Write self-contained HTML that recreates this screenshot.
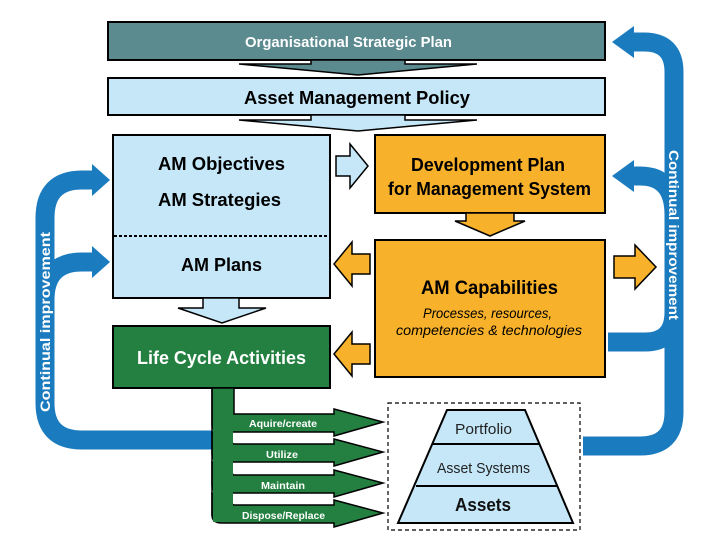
<!DOCTYPE html>
<html><head><meta charset="utf-8"><style>
html,body{margin:0;padding:0;background:#fff;}
svg{display:block;}
text{font-family:"Liberation Sans",sans-serif;}
</style></head><body>
<svg width="702" height="538" viewBox="0 0 702 538" xmlns="http://www.w3.org/2000/svg">
<!-- blue loops -->
<g fill="none" stroke="#1b7bbf" stroke-width="19">
<path d="M583 446 L640 446 Q674 446 674 412 L674 72 Q674 42 644 42 L630 42"/>
<path d="M674 215 Q674 176 640 176 L630 176"/>
<path d="M608 342 L645 342 Q674 342 674 312"/>
<path d="M220 440 L82 440 Q45 440 45 403 L45 218 Q45 180 82 180 L94 180"/>
<path d="M45 300 Q45 262 82 262 L94 262"/>
</g>
<g fill="#1b7bbf">
<polygon points="634,26 612,42 634,58"/>
<polygon points="634,160 612,176 634,192"/>
<polygon points="92,164 110,180 92,196"/>
<polygon points="92,246 110,262 92,278"/>
</g>
<text transform="translate(669,150) rotate(90)" fill="#fff" font-weight="bold" font-size="14" textLength="170" lengthAdjust="spacingAndGlyphs">Continual improvement</text>
<text transform="translate(50,412) rotate(-90)" fill="#fff" font-weight="bold" font-size="14" textLength="180" lengthAdjust="spacingAndGlyphs">Continual improvement</text>

<!-- top boxes -->
<rect x="108" y="22" width="497" height="38" fill="#5b8a8f" stroke="#000" stroke-width="2"/>
<text x="245" y="47" fill="#fff" font-weight="bold" font-size="15" textLength="207" lengthAdjust="spacingAndGlyphs">Organisational Strategic Plan</text>
<polygon points="311,60 311,64 239,64 358,75 477,64 405,64 405,60" fill="#5b8a8f" stroke="#000" stroke-width="1.5"/>
<rect x="108" y="78" width="497" height="37" fill="#c5e7f8" stroke="#000" stroke-width="2"/>
<text x="244" y="104" fill="#000" font-weight="bold" font-size="18" textLength="226" lengthAdjust="spacingAndGlyphs">Asset Management Policy</text>
<polygon points="311,115 311,120 239,120 358,131 477,120 405,120 405,115" fill="#c5e7f8" stroke="#000" stroke-width="1.5"/>

<!-- left box -->
<rect x="113" y="135" width="217" height="163" fill="#c5e7f8" stroke="#000" stroke-width="2"/>
<line x1="114" y1="236" x2="329" y2="236" stroke="#000" stroke-width="2" stroke-dasharray="3,2"/>
<text x="158" y="170" font-weight="bold" font-size="18" textLength="127" lengthAdjust="spacingAndGlyphs">AM Objectives</text>
<text x="158" y="206" font-weight="bold" font-size="18" textLength="123" lengthAdjust="spacingAndGlyphs">AM Strategies</text>
<text x="181" y="271" font-weight="bold" font-size="18" textLength="81" lengthAdjust="spacingAndGlyphs">AM Plans</text>
<polygon points="203,298 203,308 178,308 222,323 266,308 239,308 239,298" fill="#c5e7f8" stroke="#000" stroke-width="1.5"/>

<rect x="113" y="326" width="217" height="62" fill="#238041" stroke="#000" stroke-width="2"/>
<text x="137" y="364" fill="#fff" font-weight="bold" font-size="18" textLength="169" lengthAdjust="spacingAndGlyphs">Life Cycle Activities</text>

<!-- right boxes -->
<rect x="375" y="135" width="230" height="78" fill="#f7b12a" stroke="#000" stroke-width="2"/>
<text x="411" y="171" font-weight="bold" font-size="18" textLength="154" lengthAdjust="spacingAndGlyphs">Development Plan</text>
<text x="388" y="195" font-weight="bold" font-size="18" textLength="203" lengthAdjust="spacingAndGlyphs">for Management System</text>
<polygon points="336,156 350,156 350,144 368,166 350,188 350,176 336,176" fill="#c5e7f8" stroke="#000" stroke-width="1.5"/>
<polygon points="466,213 466,221 455,221 490,236 525,221 514,221 514,213" fill="#f7b12a" stroke="#000" stroke-width="1.5"/>

<rect x="375" y="240" width="230" height="137" fill="#f7b12a" stroke="#000" stroke-width="2"/>
<text x="421" y="294" font-weight="bold" font-size="19" textLength="137" lengthAdjust="spacingAndGlyphs">AM Capabilities</text>
<text x="423" y="318" font-style="italic" font-size="13.5" textLength="129" lengthAdjust="spacingAndGlyphs">Processes, resources,</text>
<text x="396" y="335" font-style="italic" font-size="13.5" textLength="186" lengthAdjust="spacingAndGlyphs">competencies &amp; technologies</text>
<polygon points="370,254 352,254 352,242 334,264 352,286 352,274 370,274" fill="#f7b12a" stroke="#000" stroke-width="1.5"/>
<polygon points="370,344 352,344 352,332 334,354 352,376 352,364 370,364" fill="#f7b12a" stroke="#000" stroke-width="1.5"/>
<polygon points="614,256 635,256 635,245 656,267 635,289 635,278 614,278" fill="#f7b12a" stroke="#000" stroke-width="1.5"/>

<!-- green branches -->
<g fill="#238041" stroke="#000" stroke-width="1.5">
<path d="M212 388 L234 388 L234 414 L334 414 L334 409 L383 422 L334 436 L334 432 L222 432 Q212 432 212 424 Z"/>
<path d="M212 432 L234 444 L334 444 L334 439 L383 452 L334 466 L334 462 L222 462 Q212 462 212 454 Z"/>
<path d="M212 462 L234 475 L334 475 L334 470 L383 483 L334 497 L334 493 L222 493 Q212 493 212 485 Z"/>
<path d="M212 493 L234 505 L334 505 L334 500 L383 513 L334 527 L334 523 L222 523 Q212 523 212 515 Z"/>
</g>
<rect x="213" y="389" width="20" height="133" fill="#238041"/>
<line x1="212" y1="388" x2="212" y2="516" stroke="#000" stroke-width="1.5"/>
<g fill="#fff" font-weight="bold" font-size="10.5">
<text x="249" y="427" textLength="68" lengthAdjust="spacingAndGlyphs">Aquire/create</text>
<text x="266" y="458" textLength="32" lengthAdjust="spacingAndGlyphs">Utilize</text>
<text x="261" y="489" textLength="44" lengthAdjust="spacingAndGlyphs">Maintain</text>
<text x="242" y="519" textLength="83" lengthAdjust="spacingAndGlyphs">Dispose/Replace</text>
</g>

<!-- pyramid -->
<rect x="388" y="403" width="192" height="127" fill="none" stroke="#000" stroke-width="1.2" stroke-dasharray="4,3"/>
<polygon points="447,410 525,410 573,523 398,523" fill="#c5e7f8" stroke="#000" stroke-width="2"/>
<line x1="433" y1="444" x2="539" y2="444" stroke="#000" stroke-width="2"/>
<line x1="416" y1="486" x2="557" y2="486" stroke="#000" stroke-width="2"/>
<text x="455" y="434" font-size="15" fill="#222" textLength="57" lengthAdjust="spacingAndGlyphs">Portfolio</text>
<text x="437" y="473" font-size="15" fill="#222" textLength="93" lengthAdjust="spacingAndGlyphs">Asset Systems</text>
<text x="455" y="511" font-size="18" font-weight="bold" fill="#111" textLength="56" lengthAdjust="spacingAndGlyphs">Assets</text>
</svg>
</body></html>
